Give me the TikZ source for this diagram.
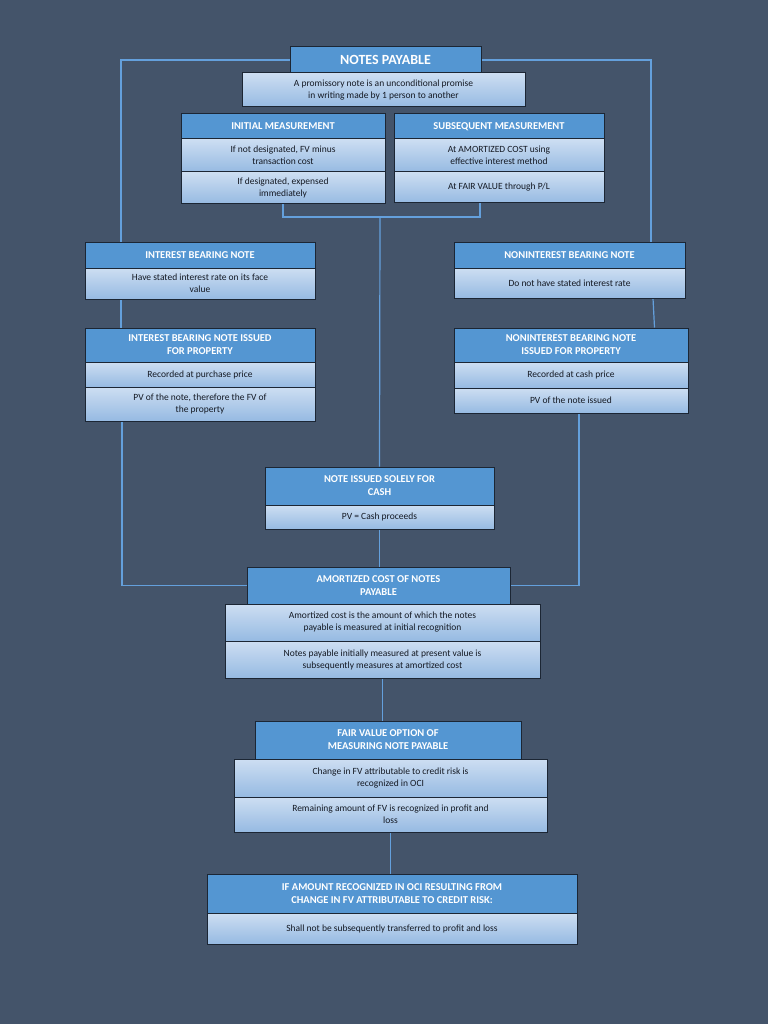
\documentclass[tikz,border=0pt]{standalone}
\usepackage{fontspec}
\setmainfont{Carlito}
\definecolor{bg}{RGB}{68,84,106}
\definecolor{hd}{RGB}{84,150,210}
\definecolor{bt}{RGB}{205,222,242}
\definecolor{bb}{RGB}{150,186,226}
\definecolor{bd}{RGB}{28,38,52}
\definecolor{ln}{RGB}{100,160,220}
\definecolor{tx}{RGB}{20,25,35}
\tikzset{
 hdr/.style={draw=bd,line width=1pt,fill=hd,text=white,font=\fontsize{10.5}{13}\selectfont\bfseries,align=center,inner sep=0pt},
 bod/.style={draw=bd,line width=1pt,top color=bt,bottom color=bb,text=tx,font=\fontsize{9.5}{12}\selectfont,align=center,inner sep=0pt},
 conn/.style={draw=ln,line width=1.2pt}
}
\newcommand{\bx}[7]{\node[#1,minimum width=#5pt,minimum height=#6pt] (#2) at (#3,#4) {#7};}
\begin{document}
\begin{tikzpicture}[x=1pt,y=-1pt]
\fill[bg] (0,0) rectangle (768,1024);
\useasboundingbox (0,0) rectangle (768,1024);
% connectors first
\coordinate (bj) at (380,217);
\bx{hdr}{np}{385.5}{60}{191}{26}{\fontsize{14}{16}\selectfont NOTES PAYABLE}
\bx{hdr}{ibn}{200}{255}{230}{26}{INTEREST BEARING NOTE}
\bx{hdr}{nibn}{569.5}{255}{231}{26}{NONINTEREST BEARING NOTE}
\bx{bod}{im2}{283}{188}{204}{32}{If designated, expensed\\immediately}
\bx{bod}{sm2}{499}{187.5}{210}{31}{At FAIR VALUE through P/L}
\bx{bod}{ibnb}{200}{283.5}{230}{31}{Have stated interest rate on its face\\value}
\bx{bod}{nibnb}{569.5}{283}{231}{30}{Do not have stated interest rate}
\bx{hdr}{ibp}{200}{345}{230}{34}{INTEREST BEARING NOTE ISSUED\\FOR PROPERTY}
\bx{hdr}{nibp}{571}{345}{234}{34}{NONINTEREST BEARING NOTE\\ISSUED FOR PROPERTY}
\bx{bod}{ibp2}{200}{404}{230}{34}{PV of the note, therefore the FV of\\the property}
\bx{bod}{nibp2}{571}{400.5}{234}{25}{PV of the note issued}
\bx{hdr}{cash}{379.5}{486}{229}{38}{NOTE ISSUED SOLELY FOR\\CASH}
\bx{bod}{cashb}{379.5}{517}{229}{24}{PV = Cash proceeds}
\bx{hdr}{am}{378.5}{585.5}{263}{37}{AMORTIZED COST OF NOTES\\PAYABLE}
\bx{bod}{am2}{382.5}{659.5}{315}{37}{Notes payable initially measured at present value is\\subsequently measures at amortized cost}
\bx{hdr}{fv}{388}{740}{266}{38}{FAIR VALUE OPTION OF\\MEASURING NOTE PAYABLE}
\bx{bod}{fv2}{390.5}{814.5}{313}{35}{Remaining amount of FV is recognized in profit and\\loss}
\bx{hdr}{ifa}{392}{893.5}{370}{39}{IF AMOUNT RECOGNIZED IN OCI RESULTING FROM\\CHANGE IN FV ATTRIBUTABLE TO CREDIT RISK:}
\begin{scope}[on background layer/.style={}]
\draw[conn] (np.west) -| ([xshift=-79pt]ibn.north);
\draw[conn] (np.east) -| ([xshift=81.5pt]nibn.north);
\draw[conn] (im2.south) |- (bj) -| ([xshift=-19pt]sm2.south);
\draw[conn] (bj) -- (cash.north);
\draw[conn] ([xshift=-79pt]ibnb.south) -- ([xshift=-79pt]ibp.north);
\draw[conn] ([xshift=83.5pt]nibnb.south) -- ([xshift=83.5pt]nibp.north);
\draw[conn] ([xshift=-78pt]ibp2.south) |- (am.west);
\draw[conn] ([xshift=8pt]nibp2.south) |- (am.east);
\draw[conn] (cashb.south) -- (cashb.south |- am.north);
\draw[conn] (am2.south) -- (am2.south |- fv.north);
\draw[conn] (fv2.south) -- (fv2.south |- ifa.north);
\end{scope}
% redraw boxes on top
\bx{hdr}{np}{385.5}{60}{191}{26}{\fontsize{14}{16}\selectfont NOTES PAYABLE}
\bx{bod}{npb}{383.5}{90}{283}{34}{A promissory note is an unconditional promise\\in writing made by 1 person to another}
\bx{hdr}{imh}{283}{126.5}{204}{25}{INITIAL MEASUREMENT}
\bx{bod}{im1}{283}{155.5}{204}{33}{If not designated, FV minus\\transaction cost}
\bx{bod}{im2}{283}{188}{204}{32}{If designated, expensed\\immediately}
\bx{hdr}{smh}{499}{126.5}{210}{25}{SUBSEQUENT MEASUREMENT}
\bx{bod}{sm1}{499}{155.5}{210}{33}{At AMORTIZED COST using\\effective interest method}
\bx{bod}{sm2}{499}{187.5}{210}{31}{At FAIR VALUE through P/L}
\bx{hdr}{ibn}{200}{255}{230}{26}{INTEREST BEARING NOTE}
\bx{bod}{ibnb}{200}{283.5}{230}{31}{Have stated interest rate on its face\\value}
\bx{hdr}{nibn}{569.5}{255}{231}{26}{NONINTEREST BEARING NOTE}
\bx{bod}{nibnb}{569.5}{283}{231}{30}{Do not have stated interest rate}
\bx{hdr}{ibp}{200}{345}{230}{34}{INTEREST BEARING NOTE ISSUED\\FOR PROPERTY}
\bx{bod}{ibp1}{200}{374.5}{230}{25}{Recorded at purchase price}
\bx{bod}{ibp2}{200}{404}{230}{34}{PV of the note, therefore the FV of\\the property}
\bx{hdr}{nibp}{571}{345}{234}{34}{NONINTEREST BEARING NOTE\\ISSUED FOR PROPERTY}
\bx{bod}{nibp1}{571}{375}{234}{26}{Recorded at cash price}
\bx{bod}{nibp2}{571}{400.5}{234}{25}{PV of the note issued}
\bx{hdr}{cash}{379.5}{486}{229}{38}{NOTE ISSUED SOLELY FOR\\CASH}
\bx{bod}{cashb}{379.5}{517}{229}{24}{PV = Cash proceeds}
\bx{hdr}{am}{378.5}{585.5}{263}{37}{AMORTIZED COST OF NOTES\\PAYABLE}
\bx{bod}{am1}{382.5}{622.5}{315}{37}{Amortized cost is the amount of which the notes\\payable is measured at initial recognition}
\bx{bod}{am2}{382.5}{659.5}{315}{37}{Notes payable initially measured at present value is\\subsequently measures at amortized cost}
\bx{hdr}{fv}{388}{740}{266}{38}{FAIR VALUE OPTION OF\\MEASURING NOTE PAYABLE}
\bx{bod}{fv1}{390.5}{778}{313}{38}{Change in FV attributable to credit risk is\\recognized in OCI}
\bx{bod}{fv2}{390.5}{814.5}{313}{35}{Remaining amount of FV is recognized in profit and\\loss}
\bx{hdr}{ifa}{392}{893.5}{370}{39}{IF AMOUNT RECOGNIZED IN OCI RESULTING FROM\\CHANGE IN FV ATTRIBUTABLE TO CREDIT RISK:}
\bx{bod}{ifab}{392}{928.5}{370}{31}{Shall not be subsequently transferred to profit and loss}
\end{tikzpicture}
\end{document}
